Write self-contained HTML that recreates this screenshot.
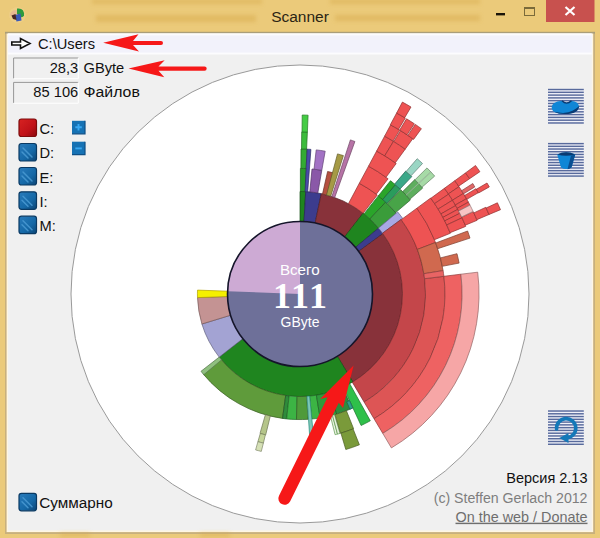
<!DOCTYPE html>
<html><head><meta charset="utf-8"><title>Scanner</title>
<style>
html,body{margin:0;padding:0}
body{width:600px;height:538px;overflow:hidden;background:#ebca7a;font-family:"Liberation Sans",sans-serif;position:relative}
svg{position:absolute;left:0;top:0}
text{font-family:"Liberation Sans",sans-serif}
</style></head><body>
<svg width="600" height="538" viewBox="0 0 600 538">
<!-- window frame -->
<rect x="5" y="32" width="590" height="502" fill="#c8b07c"/><rect x="5" y="31.8" width="590" height="1.8" fill="#aa9e7a"/>
<rect x="6.6" y="33.5" width="586.6" height="498.6" fill="#fff6e2"/>
<rect x="8.1" y="33.5" width="583.6" height="497" fill="#f0f0f0"/>
<rect x="8.1" y="33.5" width="583.6" height="21" fill="#fcfcfe"/>
<rect x="8.1" y="35.4" width="583.6" height="17.2" fill="#f2f2fb"/>
<rect x="546" y="0" width="48.5" height="22" fill="#c8514e"/>
<g fill="none" stroke-width="1">
<path d="M13.6,78.5 V58 H78.3" stroke="#979797"/><path d="M13.6,78.7 H78.3 V58" stroke="#fff"/>
<path d="M13.6,103 V82.4 H78.3" stroke="#979797"/><path d="M13.6,103.2 H78.3 V82.4" stroke="#fff"/>
</g>
<!-- title bar -->
<defs><filter id="bl" x="-10%" y="-100%" width="120%" height="300%"><feGaussianBlur stdDeviation="2.2"/></filter>
<linearGradient id="gr" x1="0" y1="0" x2="1" y2="1"><stop offset="0" stop-color="#d82222"/><stop offset=".6" stop-color="#c01218"/><stop offset="1" stop-color="#8a0a10"/></linearGradient>
<linearGradient id="gb" x1="0" y1="0" x2="1" y2="1"><stop offset="0" stop-color="#2a7cbc"/><stop offset=".6" stop-color="#1568a6"/><stop offset="1" stop-color="#0c4474"/></linearGradient>
</defs>
<g filter="url(#bl)" fill="#d4a648" fill-opacity=".45">
<rect x="92" y="-1" width="170" height="5"/><rect x="96" y="15" width="160" height="7"/>
<rect x="330" y="-1" width="150" height="5"/><rect x="335" y="15" width="145" height="6"/>
<rect x="60" y="533" width="30" height="4"/><rect x="200" y="533" width="30" height="4"/>
</g>
<text x="300" y="22" font-size="15.5" text-anchor="middle" fill="#2c2514">Scanner</text>
<g id="appicon">
<ellipse cx="17.5" cy="15" rx="8.5" ry="8" fill="#f3d79a" fill-opacity=".35"/>
<path d="M9.5,15.5 Q11.5,9.5 17,10 L16.5,16 Z" fill="#e6a89a" fill-opacity=".55"/>
<path d="M17,8.5 Q24.5,7.5 24,15.5 Q23,18 20,17 L17,13.5 Z" fill="#2e9a3e"/>
<path d="M15,15 L20.5,13.5 L21.5,20.5 L16.5,21.5 Z" fill="#3a5ab8"/>
<path d="M11.5,15.5 L15.5,14 L16.5,20 L13,19 Z" fill="#4a2626"/>
</g>
<rect x="496" y="13" width="9" height="2.4" fill="#1a1408"/>
<rect x="524.5" y="7.5" width="10" height="8" fill="none" stroke="#7a6a3a" stroke-width="1"/>
<rect x="524" y="7" width="11" height="2" fill="#7a6a3a"/>
<path d="M565.5,7 L574.5,15 M574.5,7 L565.5,15" stroke="#fff" stroke-width="2.2" fill="none"/>
<!-- path arrow icon -->
<path d="M11.8,42 H20.5 V38.6 L30,43.5 L20.5,48.4 V45 H11.8 Z" fill="#fff" stroke="#111" stroke-width="1.6" stroke-linejoin="miter"/>
<text x="38" y="49.3" font-size="14.67" fill="#111">C:\Users</text>
<text x="78.2" y="73.1" font-size="14.67" text-anchor="end" fill="#111">28,3</text>
<text x="83.5" y="73.1" font-size="14.67" fill="#111">GByte</text>
<text x="78.2" y="96.9" font-size="14.67" text-anchor="end" fill="#111">85 106</text>
<text x="83.5" y="96.9" font-size="14.67" fill="#111" textLength="56.3" lengthAdjust="spacingAndGlyphs">Файлов</text>
<!-- chart -->
<circle cx="300" cy="294" r="229" fill="#fff" stroke="#999" stroke-width="1"/>
<path d="M304.0,221.6L305.7,191.6A102.5304832720494,102.5304832720494 0 0 0 300.0,191.5L300.0,221.5A72.5,72.5 0 0 1 304.0,221.6Z" fill="#1f851f" stroke="#124f12" stroke-width="0.7" fill-opacity="1"/>
<path d="M315.1,223.1L321.3,193.7A102.5304832720494,102.5304832720494 0 0 0 305.7,191.6L304.0,221.6A72.5,72.5 0 0 1 315.1,223.1Z" fill="#3c3c8e" stroke="#242455" stroke-width="0.7" fill-opacity="1"/>
<path d="M344.6,236.9L363.1,213.2A102.5304832720494,102.5304832720494 0 0 0 321.3,193.7L315.1,223.1A72.5,72.5 0 0 1 344.6,236.9Z" fill="#88323a" stroke="#511e22" stroke-width="0.7" fill-opacity="1"/>
<path d="M355.5,247.4L378.5,228.1A102.5304832720494,102.5304832720494 0 0 0 363.1,213.2L344.6,236.9A72.5,72.5 0 0 1 355.5,247.4Z" fill="#1f851f" stroke="#124f12" stroke-width="0.7" fill-opacity="1"/>
<path d="M358.7,251.4L382.9,233.7A102.5304832720494,102.5304832720494 0 0 0 378.5,228.1L355.5,247.4A72.5,72.5 0 0 1 358.7,251.4Z" fill="#3c3c8e" stroke="#242455" stroke-width="0.7" fill-opacity="1"/>
<path d="M337.3,356.1L352.8,381.9A102.5304832720494,102.5304832720494 0 0 0 382.9,233.7L358.7,251.4A72.5,72.5 0 0 1 337.3,356.1Z" fill="#88323a" stroke="#511e22" stroke-width="0.7" fill-opacity="1"/>
<path d="M242.9,338.6L219.2,357.1A102.5304832720494,102.5304832720494 0 0 0 352.8,381.9L337.3,356.1A72.5,72.5 0 0 1 242.9,338.6Z" fill="#1f851f" stroke="#124f12" stroke-width="0.7" fill-opacity="1"/>
<path d="M230.7,315.2L201.9,324.0A102.5304832720494,102.5304832720494 0 0 0 219.2,357.1L242.9,338.6A72.5,72.5 0 0 1 230.7,315.2Z" fill="#a3a3d3" stroke="#61617e" stroke-width="0.7" fill-opacity="1"/>
<path d="M227.5,296.5L197.5,297.6A102.5304832720494,102.5304832720494 0 0 0 201.9,324.0L230.7,315.2A72.5,72.5 0 0 1 227.5,296.5Z" fill="#c49393" stroke="#755858" stroke-width="0.7" fill-opacity="1"/>
<path d="M227.6,291.2L197.5,290.1A102.5304832720494,102.5304832720494 0 0 0 197.5,297.6L227.5,296.5A72.5,72.5 0 0 1 227.6,291.2Z" fill="#f5f000" stroke="#b0a000" stroke-width="0.7" fill-opacity="1"/>
<path d="M305.4,191.6L306.6,168.6A125.5736835487436,125.5736835487436 0 0 0 300.4,168.4L300.4,191.5A102.5304832720494,102.5304832720494 0 0 1 305.4,191.6Z" fill="#2a9a2a" stroke="#195c19" stroke-width="0.7" fill-opacity="1"/>
<path d="M306.1,168.6L307.1,149.2A145.0,145.0 0 0 0 301.0,149.0L300.9,168.4A125.5736835487436,125.5736835487436 0 0 1 306.1,168.6Z" fill="#33aa33" stroke="#1e661e" stroke-width="0.7" fill-opacity="1"/>
<path d="M306.6,149.1L307.4,132.1A162.11492836873475,162.11492836873475 0 0 0 301.7,131.9L301.5,149.0A145.0,145.0 0 0 1 306.6,149.1Z" fill="#3cbc3c" stroke="#247024" stroke-width="0.7" fill-opacity="1"/>
<path d="M307.4,132.1L308.1,115.2A179.0,179.0 0 0 0 302.2,115.0L302.0,131.9A162.11492836873475,162.11492836873475 0 0 1 307.4,132.1Z" fill="#44cc44" stroke="#287a28" stroke-width="0.7" fill-opacity="1"/>
<path d="M307.7,191.8L310.9,149.4A145.0,145.0 0 0 0 307.1,149.2L305.0,191.6A102.5304832720494,102.5304832720494 0 0 1 307.7,191.8Z" fill="#4a4aa8" stroke="#2c2c64" stroke-width="0.7" fill-opacity="1"/>
<path d="M317.8,193.0L321.8,170.3A125.5736835487436,125.5736835487436 0 0 0 312.0,169.0L309.8,191.9A102.5304832720494,102.5304832720494 0 0 1 317.8,193.0Z" fill="#8a58a8" stroke="#523464" stroke-width="0.7" fill-opacity="1"/>
<path d="M321.8,170.3L325.2,151.2A145.0,145.0 0 0 0 316.2,149.9L314.0,169.2A125.5736835487436,125.5736835487436 0 0 1 321.8,170.3Z" fill="#a272c4" stroke="#614475" stroke-width="0.7" fill-opacity="1"/>
<path d="M326.9,195.1L332.9,172.8A125.5736835487436,125.5736835487436 0 0 0 327.6,171.5L322.5,194.0A102.5304832720494,102.5304832720494 0 0 1 326.9,195.1Z" fill="#b5503f" stroke="#6c3025" stroke-width="0.7" fill-opacity="1"/>
<path d="M330.7,196.2L343.4,155.6A145.0,145.0 0 0 0 337.5,153.9L326.5,195.0A102.5304832720494,102.5304832720494 0 0 1 330.7,196.2Z" fill="#a59a45" stroke="#635c29" stroke-width="0.7" fill-opacity="1"/>
<path d="M334.7,197.5L354.9,141.5A162.11492836873475,162.11492836873475 0 0 0 350.4,139.9L331.9,196.5A102.5304832720494,102.5304832720494 0 0 1 334.7,197.5Z" fill="#b673a6" stroke="#6d4563" stroke-width="0.7" fill-opacity="1"/>
<path d="M363.1,213.2L377.3,195.0A125.5736835487436,125.5736835487436 0 0 0 359.3,183.3L348.5,203.6A102.5304832720494,102.5304832720494 0 0 1 363.1,213.2Z" fill="#ee5353" stroke="#8e3131" stroke-width="0.7" fill-opacity="1"/>
<path d="M376.3,194.2L388.1,178.8A145.0,145.0 0 0 0 368.5,166.2L359.3,183.3A125.5736835487436,125.5736835487436 0 0 1 376.3,194.2Z" fill="#ee5353" stroke="#8e3131" stroke-width="0.7" fill-opacity="1"/>
<path d="M386.0,177.3L396.2,163.5A162.11492836873475,162.11492836873475 0 0 0 376.6,151.1L368.5,166.2A145.0,145.0 0 0 1 386.0,177.3Z" fill="#ee5353" stroke="#8e3131" stroke-width="0.7" fill-opacity="1"/>
<path d="M384.7,155.8L393.5,141.4A179.0,179.0 0 0 0 384.6,136.2L376.6,151.1A162.11492836873475,162.11492836873475 0 0 1 384.7,155.8Z" fill="#ee5353" stroke="#8e3131" stroke-width="0.7" fill-opacity="1"/>
<path d="M395.3,162.8L405.2,149.2A179.0,179.0 0 0 0 393.5,141.4L384.7,155.8A162.11492836873475,162.11492836873475 0 0 1 395.3,162.8Z" fill="#ee5353" stroke="#8e3131" stroke-width="0.7" fill-opacity="1"/>
<path d="M393.0,141.1L399.7,130.1A191.81697005218282,191.81697005218282 0 0 0 390.6,125.0L384.6,136.2A179.0,179.0 0 0 1 393.0,141.1Z" fill="#ee5353" stroke="#8e3131" stroke-width="0.7" fill-opacity="1"/>
<path d="M405.2,149.2L412.7,138.8A191.81697005218282,191.81697005218282 0 0 0 400.5,130.6L393.8,141.5A179.0,179.0 0 0 1 405.2,149.2Z" fill="#ee5353" stroke="#8e3131" stroke-width="0.7" fill-opacity="1"/>
<path d="M398.5,129.4L405.3,118.0A205.0609665440988,205.0609665440988 0 0 0 396.6,113.1L390.3,124.8A191.81697005218282,191.81697005218282 0 0 1 398.5,129.4Z" fill="#ee5353" stroke="#8e3131" stroke-width="0.7" fill-opacity="1"/>
<path d="M404.7,117.7L411.0,107.0A217.5,217.5 0 0 0 402.4,102.1L396.6,113.1A205.0609665440988,205.0609665440988 0 0 1 404.7,117.7Z" fill="#ee5353" stroke="#8e3131" stroke-width="0.7" fill-opacity="1"/>
<path d="M407.0,134.8L414.4,123.8A205.0609665440988,205.0609665440988 0 0 0 406.5,118.8L399.7,130.1A191.81697005218282,191.81697005218282 0 0 1 407.0,134.8Z" fill="#ee5353" stroke="#8e3131" stroke-width="0.7" fill-opacity="1"/>
<path d="M413.6,139.4L421.4,128.7A205.0609665440988,205.0609665440988 0 0 0 415.3,124.4L407.8,135.4A191.81697005218282,191.81697005218282 0 0 1 413.6,139.4Z" fill="#ee5353" stroke="#8e3131" stroke-width="0.7" fill-opacity="1"/>
<path d="M369.9,219.0L385.6,202.2A125.5736835487436,125.5736835487436 0 0 0 378.3,195.9L364.0,213.9A102.5304832720494,102.5304832720494 0 0 1 369.9,219.0Z" fill="#2aa52a" stroke="#196319" stroke-width="0.7" fill-opacity="1"/>
<path d="M378.5,228.1L396.2,213.3A125.5736835487436,125.5736835487436 0 0 0 385.6,202.2L369.9,219.0A102.5304832720494,102.5304832720494 0 0 1 378.5,228.1Z" fill="#3a9c3a" stroke="#225d22" stroke-width="0.7" fill-opacity="1"/>
<path d="M382.7,199.5L395.5,184.9A145.0,145.0 0 0 0 390.5,180.7L378.3,195.9A125.5736835487436,125.5736835487436 0 0 1 382.7,199.5Z" fill="#2aa52a" stroke="#196319" stroke-width="0.7" fill-opacity="1"/>
<path d="M386.9,203.4L400.4,189.3A145.0,145.0 0 0 0 395.5,184.9L382.7,199.5A125.5736835487436,125.5736835487436 0 0 1 386.9,203.4Z" fill="#2a9c5c" stroke="#195d37" stroke-width="0.7" fill-opacity="1"/>
<path d="M400.0,189.0L411.8,176.6A162.11492836873475,162.11492836873475 0 0 0 405.7,171.1L394.6,184.1A145.0,145.0 0 0 1 400.0,189.0Z" fill="#3aa888" stroke="#226451" stroke-width="0.7" fill-opacity="1"/>
<path d="M411.0,175.8L422.5,163.5A179.0,179.0 0 0 0 417.2,158.7L406.1,171.5A162.11492836873475,162.11492836873475 0 0 1 411.0,175.8Z" fill="#9ad6c4" stroke="#5c8075" stroke-width="0.7" fill-opacity="1"/>
<path d="M395.6,212.6L410.4,200.0A145.0,145.0 0 0 0 400.9,189.9L387.4,203.8A125.5736835487436,125.5736835487436 0 0 1 395.6,212.6Z" fill="#48a448" stroke="#2b622b" stroke-width="0.7" fill-opacity="1"/>
<path d="M409.8,199.3L422.7,188.1A162.11492836873475,162.11492836873475 0 0 0 414.8,179.6L402.7,191.6A145.0,145.0 0 0 1 409.8,199.3Z" fill="#5eae5e" stroke="#386838" stroke-width="0.7" fill-opacity="1"/>
<path d="M422.0,187.2L434.7,176.1A179.0,179.0 0 0 0 427.0,167.9L415.0,179.8A162.11492836873475,162.11492836873475 0 0 1 422.0,187.2Z" fill="#a6daa6" stroke="#638263" stroke-width="0.7" fill-opacity="1"/>
<path d="M406.2,195.3L431.1,172.2A179.0,179.0 0 0 0 430.7,171.7L405.9,194.9A145.0,145.0 0 0 1 406.2,195.3Z" fill="#c8ecc8" stroke="#788d78" stroke-width="0.4" fill-opacity="1"/>
<path d="M382.5,233.2L402.6,218.3A127.51631519386925,127.51631519386925 0 0 0 397.7,212.0L378.5,228.1A102.5304832720494,102.5304832720494 0 0 1 382.5,233.2Z" fill="#a8a8e4" stroke="#646488" stroke-width="0.7" fill-opacity="1"/>
<path d="M352.3,382.2L364.1,402.0A125.5736835487436,125.5736835487436 0 0 0 401.1,219.5L382.5,233.2A102.5304832720494,102.5304832720494 0 0 1 352.3,382.2Z" fill="#c4464a" stroke="#752a2c" stroke-width="0.7" fill-opacity="1"/>
<path d="M417.4,249.4L435.5,242.5A145.0,145.0 0 0 0 416.9,208.2L401.2,219.7A125.5736835487436,125.5736835487436 0 0 1 417.4,249.4Z" fill="#ee5353" stroke="#8e3131" stroke-width="0.7" fill-opacity="1"/>
<path d="M364.1,402.0L374.0,418.7A145.0,145.0 0 0 0 443.9,276.3L424.6,278.7A125.5736835487436,125.5736835487436 0 0 1 364.1,402.0Z" fill="#dd5555" stroke="#843333" stroke-width="0.7" fill-opacity="1"/>
<path d="M374.0,418.7L382.8,433.4A162.11492836873475,162.11492836873475 0 0 0 460.9,274.2L443.9,276.3A145.0,145.0 0 0 1 374.0,418.7Z" fill="#ee6262" stroke="#8e3a3a" stroke-width="0.7" fill-opacity="1"/>
<path d="M382.8,433.4L391.4,447.9A179.0,179.0 0 0 0 477.7,272.2L460.9,274.2A162.11492836873475,162.11492836873475 0 0 1 382.8,433.4Z" fill="#f6a6a6" stroke="#936363" stroke-width="0.7" fill-opacity="1"/>
<path d="M423.9,273.7L443.1,270.6A145.0,145.0 0 0 0 435.5,242.5L417.4,249.4A125.5736835487436,125.5736835487436 0 0 1 423.9,273.7Z" fill="#d0694f" stroke="#7c3f2f" stroke-width="0.7" fill-opacity="1"/>
<path d="M424.6,278.7L443.9,276.3A145.0,145.0 0 0 0 443.1,270.6L423.9,273.7A125.5736835487436,125.5736835487436 0 0 1 424.6,278.7Z" fill="#e86464" stroke="#8b3c3c" stroke-width="0.7" fill-opacity="1"/>
<path d="M437.7,248.7L470.0,238.1A179.0,179.0 0 0 0 467.6,231.0L435.7,243.0A145.0,145.0 0 0 1 437.7,248.7Z" fill="#d0694f" stroke="#7c3f2f" stroke-width="0.7" fill-opacity="1"/>
<path d="M442.3,266.3L459.1,263.1A162.11492836873475,162.11492836873475 0 0 0 457.0,253.7L440.4,257.9A145.0,145.0 0 0 1 442.3,266.3Z" fill="#d0694f" stroke="#7c3f2f" stroke-width="0.7" fill-opacity="1"/>
<path d="M434.4,239.7L450.3,233.3A162.11492836873475,162.11492836873475 0 0 0 430.7,198.0L416.9,208.2A145.0,145.0 0 0 1 434.4,239.7Z" fill="#ee5353" stroke="#8e3131" stroke-width="0.7" fill-opacity="1"/>
<path d="M434.6,203.6L448.6,194.2A179.0,179.0 0 0 0 444.4,188.3L430.8,198.3A162.11492836873475,162.11492836873475 0 0 1 434.6,203.6Z" fill="#ee5353" stroke="#8e3131" stroke-width="0.7" fill-opacity="1"/>
<path d="M438.1,209.1L452.5,200.2A179.0,179.0 0 0 0 448.6,194.2L434.6,203.6A162.11492836873475,162.11492836873475 0 0 1 438.1,209.1Z" fill="#ee5353" stroke="#8e3131" stroke-width="0.7" fill-opacity="1"/>
<path d="M441.0,213.9L455.6,205.6A179.0,179.0 0 0 0 452.5,200.2L438.1,209.1A162.11492836873475,162.11492836873475 0 0 1 441.0,213.9Z" fill="#ee5353" stroke="#8e3131" stroke-width="0.7" fill-opacity="1"/>
<path d="M442.9,217.4L457.8,209.4A179.0,179.0 0 0 0 455.6,205.6L441.0,213.9A162.11492836873475,162.11492836873475 0 0 1 442.9,217.4Z" fill="#ee5353" stroke="#8e3131" stroke-width="0.7" fill-opacity="1"/>
<path d="M444.7,220.9L459.8,213.3A179.0,179.0 0 0 0 457.8,209.4L442.9,217.4A162.11492836873475,162.11492836873475 0 0 1 444.7,220.9Z" fill="#ee5353" stroke="#8e3131" stroke-width="0.7" fill-opacity="1"/>
<path d="M446.7,225.0L462.0,217.8A179.0,179.0 0 0 0 459.8,213.3L444.7,220.9A162.11492836873475,162.11492836873475 0 0 1 446.7,225.0Z" fill="#ee5353" stroke="#8e3131" stroke-width="0.7" fill-opacity="1"/>
<path d="M450.1,232.7L465.7,226.4A179.0,179.0 0 0 0 462.0,217.8L446.7,225.0A162.11492836873475,162.11492836873475 0 0 1 450.1,232.7Z" fill="#ee5353" stroke="#8e3131" stroke-width="0.7" fill-opacity="1"/>
<path d="M448.4,193.9L459.0,186.7A191.81697005218282,191.81697005218282 0 0 0 454.8,180.7L444.4,188.3A179.0,179.0 0 0 1 448.4,193.9Z" fill="#ee5353" stroke="#8e3131" stroke-width="0.7" fill-opacity="1"/>
<path d="M452.5,200.2L463.4,193.5A191.81697005218282,191.81697005218282 0 0 0 459.0,186.7L448.4,193.9A179.0,179.0 0 0 1 452.5,200.2Z" fill="#ee5353" stroke="#8e3131" stroke-width="0.7" fill-opacity="1"/>
<path d="M455.3,205.0L466.5,198.7A191.81697005218282,191.81697005218282 0 0 0 463.4,193.5L452.5,200.2A179.0,179.0 0 0 1 455.3,205.0Z" fill="#ee5353" stroke="#8e3131" stroke-width="0.7" fill-opacity="1"/>
<path d="M457.2,208.3L468.4,202.2A191.81697005218282,191.81697005218282 0 0 0 466.5,198.7L455.3,205.0A179.0,179.0 0 0 1 457.2,208.3Z" fill="#ee5353" stroke="#8e3131" stroke-width="0.7" fill-opacity="1"/>
<path d="M458.6,211.1L470.0,205.1A191.81697005218282,191.81697005218282 0 0 0 468.4,202.2L457.2,208.3A179.0,179.0 0 0 1 458.6,211.1Z" fill="#ee5353" stroke="#8e3131" stroke-width="0.7" fill-opacity="1"/>
<path d="M465.3,225.2L477.1,220.3A191.81697005218282,191.81697005218282 0 0 0 473.3,211.7L461.7,217.2A179.0,179.0 0 0 1 465.3,225.2Z" fill="#ee5353" stroke="#8e3131" stroke-width="0.7" fill-opacity="1"/>
<path d="M461.6,216.9L473.1,211.4A191.81697005218282,191.81697005218282 0 0 0 470.0,205.1L458.6,211.1A179.0,179.0 0 0 1 461.6,216.9Z" fill="#f8c4c4" stroke="#947575" stroke-width="0.7" fill-opacity="1"/>
<path d="M458.6,186.2L469.6,178.7A205.0609665440988,205.0609665440988 0 0 0 465.5,172.9L454.8,180.7A191.81697005218282,191.81697005218282 0 0 1 458.6,186.2Z" fill="#ee5353" stroke="#8e3131" stroke-width="0.7" fill-opacity="1"/>
<path d="M469.6,178.7L479.9,171.7A217.5,217.5 0 0 0 475.5,165.5L465.5,172.9A205.0609665440988,205.0609665440988 0 0 1 469.6,178.7Z" fill="#ee5353" stroke="#8e3131" stroke-width="0.7" fill-opacity="1"/>
<path d="M463.6,193.8L474.8,186.9A205.0609665440988,205.0609665440988 0 0 0 472.8,183.5L461.6,190.7A191.81697005218282,191.81697005218282 0 0 1 463.6,193.8Z" fill="#e06868" stroke="#863e3e" stroke-width="0.7" fill-opacity="1"/>
<path d="M466.8,199.3L478.3,192.7A205.0609665440988,205.0609665440988 0 0 0 476.0,188.7L464.6,195.5A191.81697005218282,191.81697005218282 0 0 1 466.8,199.3Z" fill="#ee5353" stroke="#8e3131" stroke-width="0.7" fill-opacity="1"/>
<path d="M478.5,193.0L489.3,186.9A217.5,217.5 0 0 0 487.0,183.0L476.3,189.3A205.0609665440988,205.0609665440988 0 0 1 478.5,193.0Z" fill="#ee5353" stroke="#8e3131" stroke-width="0.7" fill-opacity="1"/>
<path d="M476.8,219.7L489.0,214.5A205.0609665440988,205.0609665440988 0 0 0 485.8,207.3L473.8,212.9A191.81697005218282,191.81697005218282 0 0 1 476.8,219.7Z" fill="#ee5353" stroke="#8e3131" stroke-width="0.7" fill-opacity="1"/>
<path d="M489.0,214.5L500.5,209.7A217.5,217.5 0 0 0 497.4,202.8L486.1,208.0A205.0609665440988,205.0609665440988 0 0 1 489.0,214.5Z" fill="#ee5353" stroke="#8e3131" stroke-width="0.7" fill-opacity="1"/>
<path d="M220.9,359.2L203.1,373.9A125.5736835487436,125.5736835487436 0 0 0 282.5,418.4L285.7,395.5A102.5304832720494,102.5304832720494 0 0 1 220.9,359.2Z" fill="#5f9b3b" stroke="#395d23" stroke-width="0.7" fill-opacity="1"/>
<path d="M219.2,357.1L201.0,371.3A125.5736835487436,125.5736835487436 0 0 0 203.8,374.7L221.5,359.9A102.5304832720494,102.5304832720494 0 0 1 219.2,357.1Z" fill="#8fc07f" stroke="#55734c" stroke-width="0.7" fill-opacity="1"/>
<path d="M285.7,395.5L282.5,418.4A125.5736835487436,125.5736835487436 0 0 0 286.7,418.9L289.1,395.9A102.5304832720494,102.5304832720494 0 0 1 285.7,395.5Z" fill="#2f8b3b" stroke="#1c5323" stroke-width="0.7" fill-opacity="1"/>
<path d="M289.1,395.9L286.7,418.9A125.5736835487436,125.5736835487436 0 0 0 296.5,419.5L297.1,396.5A102.5304832720494,102.5304832720494 0 0 1 289.1,395.9Z" fill="#3cb444" stroke="#246c28" stroke-width="0.7" fill-opacity="1"/>
<path d="M297.1,396.5L296.5,419.5A125.5736835487436,125.5736835487436 0 0 0 308.1,419.3L306.6,396.3A102.5304832720494,102.5304832720494 0 0 1 297.1,396.5Z" fill="#4f9a3a" stroke="#2f5c22" stroke-width="0.7" fill-opacity="1"/>
<path d="M309.6,396.1L311.8,419.0A125.5736835487436,125.5736835487436 0 0 0 320.1,418.0L316.4,395.2A102.5304832720494,102.5304832720494 0 0 1 309.6,396.1Z" fill="#3cb444" stroke="#246c28" stroke-width="0.7" fill-opacity="1"/>
<path d="M316.4,395.2L320.1,418.0A125.5736835487436,125.5736835487436 0 0 0 336.7,414.1L330.0,392.1A102.5304832720494,102.5304832720494 0 0 1 316.4,395.2Z" fill="#2f9b3b" stroke="#1c5d23" stroke-width="0.7" fill-opacity="1"/>
<path d="M330.0,392.1L336.7,414.1A125.5736835487436,125.5736835487436 0 0 0 352.1,408.3L342.5,387.3A102.5304832720494,102.5304832720494 0 0 1 330.0,392.1Z" fill="#2f8b3b" stroke="#1c5323" stroke-width="0.7" fill-opacity="1"/>
<path d="M307.0,396.3L309.7,436.7A143.05736835487437,143.05736835487437 0 0 0 313.5,436.4L309.6,396.1A102.5304832720494,102.5304832720494 0 0 1 307.0,396.3Z" fill="#7fc8b8" stroke="#1f8a7a" stroke-width="0.7" fill-opacity="1"/>
<path d="M343.2,387.0L361.1,425.5A145.0,145.0 0 0 0 370.3,420.8L349.7,383.7A102.5304832720494,102.5304832720494 0 0 1 343.2,387.0Z" fill="#2fc04a" stroke="#1c732c" stroke-width="0.7" fill-opacity="1"/>
<path d="M346.7,401.8L349.9,409.2A125.5736835487436,125.5736835487436 0 0 0 352.9,407.9L349.5,400.6A117.50856345190063,117.50856345190063 0 0 1 346.7,401.8Z" fill="#2fa08a" stroke="#1c6052" stroke-width="0.7" fill-opacity="1"/>
<path d="M330.4,415.8L335.1,434.7A145.0,145.0 0 0 0 337.5,434.1L332.5,415.3A125.5736835487436,125.5736835487436 0 0 1 330.4,415.8Z" fill="#e8f0e0" stroke="#5a9a4a" stroke-width="0.7" fill-opacity="1"/>
<path d="M332.5,415.3L337.5,434.1A145.0,145.0 0 0 0 340.0,433.4L334.6,414.7A125.5736835487436,125.5736835487436 0 0 1 332.5,415.3Z" fill="#e8f0e0" stroke="#5a9a4a" stroke-width="0.7" fill-opacity="1"/>
<path d="M335.0,414.6L340.5,433.2A145.0,145.0 0 0 0 353.6,428.7L346.4,410.7A125.5736835487436,125.5736835487436 0 0 1 335.0,414.6Z" fill="#7a9a3a" stroke="#495c22" stroke-width="0.7" fill-opacity="1"/>
<path d="M340.9,433.1L345.8,449.5A162.11492836873475,162.11492836873475 0 0 0 359.4,444.8L353.1,428.9A145.0,145.0 0 0 1 340.9,433.1Z" fill="#7a9a3a" stroke="#495c22" stroke-width="0.7" fill-opacity="1"/>
<path d="M265.4,414.7L260.0,433.4A145.0,145.0 0 0 0 265.7,434.9L270.3,416.0A125.5736835487436,125.5736835487436 0 0 1 265.4,414.7Z" fill="#b5c58a" stroke="#6c7652" stroke-width="0.7" fill-opacity="1"/>
<path d="M260.3,433.5L257.9,441.7A153.55746418436738,153.55746418436738 0 0 0 263.4,443.1L265.4,434.8A145.0,145.0 0 0 1 260.3,433.5Z" fill="#c5d59a" stroke="#767f5c" stroke-width="0.7" fill-opacity="1"/>
<path d="M257.9,441.7L255.6,449.9A162.11492836873475,162.11492836873475 0 0 0 261.3,451.4L263.4,443.1A153.55746418436738,153.55746418436738 0 0 1 257.9,441.7Z" fill="#d5e0b5" stroke="#7f866c" stroke-width="0.7" fill-opacity="1"/>
<circle cx="300" cy="294" r="72.5" fill="#6e7099"/>
<path d="M300,294 L227.55,291.2 A72.5,72.5 0 0 1 300,221.5 Z" fill="#cdaad4"/>
<circle cx="300" cy="294" r="72.5" fill="none" stroke="#15152a" stroke-width="1.6"/>
<text x="299.8" y="275.3" font-size="15.2" text-anchor="middle" fill="#fff">Всего</text>
<text x="301" y="307.8" font-size="36" font-weight="bold" text-anchor="middle" letter-spacing="2" fill="#fff" style="font-family:'Liberation Serif',serif">111</text>
<text x="300" y="326.5" font-size="14" text-anchor="middle" fill="#fff">GByte</text>
<!-- drives -->
<g id="drives" font-size="14.67" fill="#111">
<rect x="19" y="119" width="17.5" height="17.5" rx="2.5" fill="url(#gr)" stroke="#7e0c0c" stroke-width="1.2"/>
<text x="39.5" y="133.7">C:</text>
<rect x="19" y="143.5" width="17.5" height="17.5" rx="2.5" fill="url(#gb)" stroke="#0b3a63" stroke-width="1.2"/>
<text x="39.5" y="158.2">D:</text>
<rect x="19" y="167.5" width="17.5" height="17.5" rx="2.5" fill="url(#gb)" stroke="#0b3a63" stroke-width="1.2"/>
<text x="39.5" y="182.5">E:</text>
<rect x="19" y="191.8" width="17.5" height="17.5" rx="2.5" fill="url(#gb)" stroke="#0b3a63" stroke-width="1.2"/>
<text x="39.5" y="206.8">I:</text>
<rect x="19" y="216.2" width="17.5" height="17.5" rx="2.5" fill="url(#gb)" stroke="#0b3a63" stroke-width="1.2"/>
<text x="39.5" y="231.2">M:</text>
<rect x="19" y="493.3" width="17.5" height="17.5" rx="2.5" fill="url(#gb)" stroke="#0b3a63" stroke-width="1.2"/>
<text x="39.3" y="508.3" textLength="73.5" lengthAdjust="spacingAndGlyphs">Суммарно</text>
</g>
<g stroke="#4a9ad2" stroke-width="1.5" stroke-linecap="round" fill="none" stroke-opacity=".85">
<path d="M23,148 L32,157 M22,152 L28,158"/><path d="M23,172 L32,181 M22,176 L28,182"/>
<path d="M23,196.3 L32,205.3 M22,200.3 L28,206.3"/><path d="M23,220.7 L32,229.7 M22,224.7 L28,230.7"/>
<path d="M23,497.8 L32,506.8 M22,501.8 L28,507.8"/>
</g>
<rect x="72" y="120.8" width="13" height="13" fill="#1672b4"/><path d="M72,133.8 H85 V120.8" fill="none" stroke="#0e4f86" stroke-width="1.2"/>
<path d="M75.3,127.3 H81.8 M78.5,124 V130.6" stroke="#38a8f2" stroke-width="1.9"/>
<rect x="72" y="141.7" width="13" height="13" fill="#1672b4"/><path d="M72,154.7 H85 V141.7" fill="none" stroke="#0e4f86" stroke-width="1.2"/>
<path d="M75.3,148.4 H81.8" stroke="#38a8f2" stroke-width="1.9"/>
<!-- right buttons -->
<rect x="548" y="88.8" width="35.8" height="34.9" fill="#f1f2f9"/><rect x="548" y="88.80" width="35.8" height="1.45" fill="#586a9c"/><rect x="548" y="91.59" width="35.8" height="1.45" fill="#586a9c"/><rect x="548" y="94.38" width="35.8" height="1.45" fill="#586a9c"/><rect x="548" y="97.16" width="35.8" height="1.45" fill="#586a9c"/><rect x="548" y="99.95" width="35.8" height="1.45" fill="#586a9c"/><rect x="548" y="102.74" width="35.8" height="1.45" fill="#586a9c"/><rect x="548" y="105.52" width="35.8" height="1.45" fill="#586a9c"/><rect x="548" y="108.31" width="35.8" height="1.45" fill="#586a9c"/><rect x="548" y="111.10" width="35.8" height="1.45" fill="#586a9c"/><rect x="548" y="113.89" width="35.8" height="1.45" fill="#586a9c"/><rect x="548" y="116.67" width="35.8" height="1.45" fill="#586a9c"/><rect x="548" y="119.46" width="35.8" height="1.45" fill="#586a9c"/><rect x="548" y="122.25" width="35.8" height="1.45" fill="#586a9c"/>
<path d="M551.6,108 Q551.6,101.5 562,100.8 Q566,104.5 571,100.8 Q579.2,101.5 579,107.5 Q577.5,114 565,114 Q552.5,114 551.6,108 Z" fill="#0f86d6"/>
<path d="M579,106 Q578.5,114 565,114 Q558,114 554.5,111.8 Q566,114.5 573,110.5 Q577.5,108 579,106 Z" fill="#0a3a72"/>
<path d="M562,100.8 Q566.5,105.5 571.5,100.8" fill="none" stroke="#0a3a72" stroke-width="1.3"/>
<rect x="548" y="142.9" width="35.8" height="33.9" fill="#f1f2f9"/><rect x="548" y="142.90" width="35.8" height="1.45" fill="#586a9c"/><rect x="548" y="145.60" width="35.8" height="1.45" fill="#586a9c"/><rect x="548" y="148.31" width="35.8" height="1.45" fill="#586a9c"/><rect x="548" y="151.01" width="35.8" height="1.45" fill="#586a9c"/><rect x="548" y="153.72" width="35.8" height="1.45" fill="#586a9c"/><rect x="548" y="156.42" width="35.8" height="1.45" fill="#586a9c"/><rect x="548" y="159.12" width="35.8" height="1.45" fill="#586a9c"/><rect x="548" y="161.83" width="35.8" height="1.45" fill="#586a9c"/><rect x="548" y="164.53" width="35.8" height="1.45" fill="#586a9c"/><rect x="548" y="167.24" width="35.8" height="1.45" fill="#586a9c"/><rect x="548" y="169.94" width="35.8" height="1.45" fill="#586a9c"/><rect x="548" y="172.65" width="35.8" height="1.45" fill="#586a9c"/><rect x="548" y="175.35" width="35.8" height="1.45" fill="#586a9c"/>
<path d="M557.2,154.5 Q566,150 575.3,154.5 L571.5,167.5 Q566,170.5 561,167.5 Z" fill="#0f86d6"/>
<path d="M557.2,154.5 Q566,150 575.3,154.5 Q566,157 557.2,154.5 Z" fill="#0a3a72"/>
<path d="M575.3,154.5 L571.5,167.5 Q569.5,169 567.5,169.3 L571,155.5 Z" fill="#0a4f92"/>
<rect x="548" y="410.3" width="35.8" height="34.7" fill="#f1f2f9"/><rect x="548" y="410.30" width="35.8" height="1.45" fill="#586a9c"/><rect x="548" y="413.07" width="35.8" height="1.45" fill="#586a9c"/><rect x="548" y="415.84" width="35.8" height="1.45" fill="#586a9c"/><rect x="548" y="418.61" width="35.8" height="1.45" fill="#586a9c"/><rect x="548" y="421.38" width="35.8" height="1.45" fill="#586a9c"/><rect x="548" y="424.15" width="35.8" height="1.45" fill="#586a9c"/><rect x="548" y="426.93" width="35.8" height="1.45" fill="#586a9c"/><rect x="548" y="429.70" width="35.8" height="1.45" fill="#586a9c"/><rect x="548" y="432.47" width="35.8" height="1.45" fill="#586a9c"/><rect x="548" y="435.24" width="35.8" height="1.45" fill="#586a9c"/><rect x="548" y="438.01" width="35.8" height="1.45" fill="#586a9c"/><rect x="548" y="440.78" width="35.8" height="1.45" fill="#586a9c"/><rect x="548" y="443.55" width="35.8" height="1.45" fill="#586a9c"/>
<path d="M556.6,429 A9.6,9.6 0 1 1 567,437.8" fill="none" stroke="#1478b8" stroke-width="3.6" stroke-linecap="round"/>
<path d="M568.5,433 L568.5,443 L559.3,438 Z" fill="#1478b8"/>
<!-- bottom right text -->
<text x="587.5" y="482.7" font-size="14.5" text-anchor="end" fill="#111">Версия 2.13</text>
<text x="587.5" y="502.5" font-size="14.15" text-anchor="end" fill="#7e7e7e">(c) Steffen Gerlach 2012</text>
<text x="587.5" y="521.7" font-size="14.4" text-anchor="end" fill="#6e6e6e" text-decoration="underline">On the web / Donate</text>
<!-- red annotation arrows -->
<g fill="#f61818" stroke="none">
<path d="M103.2,42.8 L138.5,34.2 L133,41 L161,41 A2,2 0 0 1 161,45 L133,45 L139,51.6 Z"/>
<path d="M128.5,68.6 L164.7,60.2 L158.5,66.4 L204.5,66.4 A2.2,2.2 0 0 1 204.5,70.8 L158.5,70.8 L164.3,77.2 Z"/>
<path d="M353.6,365.6 L320.1,399 L327.6,397.2 L279,495.7 A6.25,6.25 0 0 0 290.2,501.3 L338.8,402.8 L343,408 Z"/>
</g>
</svg>
</body></html>
